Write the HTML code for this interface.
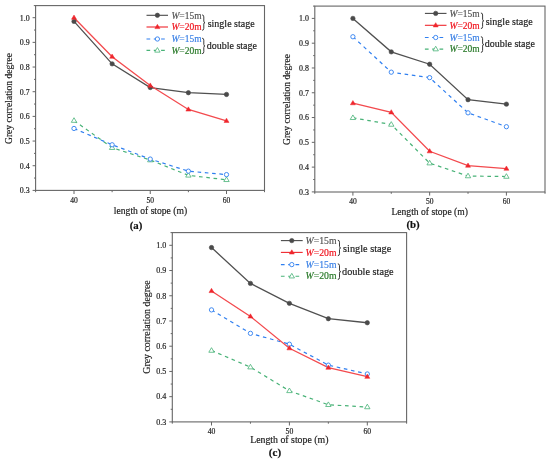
<!DOCTYPE html>
<html><head><meta charset="utf-8"><style>
html,body{margin:0;padding:0;background:#fff;}
svg{display:block;font-family:"Liberation Serif", serif;filter:blur(0.3px);}
text{stroke-width:0.18px;}
</style></head><body>
<svg width="550" height="462" viewBox="0 0 550 462">
<rect width="550" height="462" fill="#fff"/>
<rect x="35.6" y="5.6" width="228.9" height="184.8" fill="none" stroke="#666666" stroke-width="1.1"/>
<line x1="32.6" y1="190.4" x2="35.6" y2="190.4" stroke="#666666" stroke-width="1"/>
<text x="29.7" y="193.2" text-anchor="end" font-size="7.9" fill="#222" stroke="#222">0.3</text>
<line x1="34" y1="178.06" x2="35.6" y2="178.06" stroke="#666666" stroke-width="1"/>
<line x1="32.6" y1="165.73" x2="35.6" y2="165.73" stroke="#666666" stroke-width="1"/>
<text x="29.7" y="168.53" text-anchor="end" font-size="7.9" fill="#222" stroke="#222">0.4</text>
<line x1="34" y1="153.39" x2="35.6" y2="153.39" stroke="#666666" stroke-width="1"/>
<line x1="32.6" y1="141.06" x2="35.6" y2="141.06" stroke="#666666" stroke-width="1"/>
<text x="29.7" y="143.86" text-anchor="end" font-size="7.9" fill="#222" stroke="#222">0.5</text>
<line x1="34" y1="128.72" x2="35.6" y2="128.72" stroke="#666666" stroke-width="1"/>
<line x1="32.6" y1="116.39" x2="35.6" y2="116.39" stroke="#666666" stroke-width="1"/>
<text x="29.7" y="119.19" text-anchor="end" font-size="7.9" fill="#222" stroke="#222">0.6</text>
<line x1="34" y1="104.05" x2="35.6" y2="104.05" stroke="#666666" stroke-width="1"/>
<line x1="32.6" y1="91.71" x2="35.6" y2="91.71" stroke="#666666" stroke-width="1"/>
<text x="29.7" y="94.51" text-anchor="end" font-size="7.9" fill="#222" stroke="#222">0.7</text>
<line x1="34" y1="79.38" x2="35.6" y2="79.38" stroke="#666666" stroke-width="1"/>
<line x1="32.6" y1="67.04" x2="35.6" y2="67.04" stroke="#666666" stroke-width="1"/>
<text x="29.7" y="69.84" text-anchor="end" font-size="7.9" fill="#222" stroke="#222">0.8</text>
<line x1="34" y1="54.71" x2="35.6" y2="54.71" stroke="#666666" stroke-width="1"/>
<line x1="32.6" y1="42.37" x2="35.6" y2="42.37" stroke="#666666" stroke-width="1"/>
<text x="29.7" y="45.17" text-anchor="end" font-size="7.9" fill="#222" stroke="#222">0.9</text>
<line x1="34" y1="30.04" x2="35.6" y2="30.04" stroke="#666666" stroke-width="1"/>
<line x1="32.6" y1="17.7" x2="35.6" y2="17.7" stroke="#666666" stroke-width="1"/>
<text x="29.7" y="20.5" text-anchor="end" font-size="7.9" fill="#222" stroke="#222">1.0</text>
<line x1="33.8" y1="5.6" x2="35.6" y2="5.6" stroke="#666666" stroke-width="1"/>
<line x1="35.6" y1="190.4" x2="35.6" y2="192.2" stroke="#666666" stroke-width="1"/>
<line x1="264.5" y1="190.4" x2="264.5" y2="192.2" stroke="#666666" stroke-width="1"/>
<line x1="74" y1="190.4" x2="74" y2="194" stroke="#666666" stroke-width="1"/>
<text x="74" y="202.7" text-anchor="middle" font-size="7.5" fill="#222" stroke="#222">40</text>
<line x1="112.12" y1="190.4" x2="112.12" y2="192.2" stroke="#666666" stroke-width="1"/>
<line x1="150.25" y1="190.4" x2="150.25" y2="194" stroke="#666666" stroke-width="1"/>
<text x="150.25" y="202.7" text-anchor="middle" font-size="7.5" fill="#222" stroke="#222">50</text>
<line x1="188.38" y1="190.4" x2="188.38" y2="192.2" stroke="#666666" stroke-width="1"/>
<line x1="226.5" y1="190.4" x2="226.5" y2="194" stroke="#666666" stroke-width="1"/>
<text x="226.5" y="202.7" text-anchor="middle" font-size="7.5" fill="#222" stroke="#222">60</text>
<text x="150.5" y="214.3" text-anchor="middle" font-size="9.6" fill="#222" stroke="#222">length of stope (m)</text>
<text x="136" y="228.6" text-anchor="middle" font-size="10.8" font-weight="bold" fill="#111" stroke="#111">(a)</text>
<text transform="translate(12.2,98.5) rotate(-90)" text-anchor="middle" font-size="9.6" fill="#222" stroke="#222">Grey correlation degree</text>
<polyline points="74,120.58 112.12,147.72 150.25,160.05 188.38,175.35 226.5,179.79" fill="none" stroke="#48b277" stroke-width="1.2" stroke-dasharray="3.6,3.7"/>
<polyline points="74,128.47 112.12,144.76 150.25,159.07 188.38,171.16 226.5,174.61" fill="none" stroke="#2f7ff0" stroke-width="1.2" stroke-dasharray="3.6,3.7"/>
<polyline points="74,21.4 112.12,63.84 150.25,87.52 188.38,92.7 226.5,94.43" fill="none" stroke="#505050" stroke-width="1.3"/>
<polyline points="74,17.7 112.12,56.68 150.25,85.55 188.38,109.48 226.5,120.83" fill="none" stroke="#f34a4e" stroke-width="1.3"/>
<polygon points="74,117.73 76.7,122.32 71.3,122.32" fill="#fff" stroke="#48b277" stroke-width="0.8" stroke-linejoin="miter"/>
<polygon points="112.12,144.87 114.83,149.46 109.42,149.46" fill="#fff" stroke="#48b277" stroke-width="0.8" stroke-linejoin="miter"/>
<polygon points="150.25,157.21 152.95,161.8 147.55,161.8" fill="#fff" stroke="#48b277" stroke-width="0.8" stroke-linejoin="miter"/>
<polygon points="188.38,172.5 191.07,177.09 185.68,177.09" fill="#fff" stroke="#48b277" stroke-width="0.8" stroke-linejoin="miter"/>
<polygon points="226.5,176.95 229.2,181.54 223.8,181.54" fill="#fff" stroke="#48b277" stroke-width="0.8" stroke-linejoin="miter"/>
<circle cx="74" cy="128.47" r="2.15" fill="#fff" stroke="#2f7ff0" stroke-width="0.9"/>
<circle cx="112.12" cy="144.76" r="2.15" fill="#fff" stroke="#2f7ff0" stroke-width="0.9"/>
<circle cx="150.25" cy="159.07" r="2.15" fill="#fff" stroke="#2f7ff0" stroke-width="0.9"/>
<circle cx="188.38" cy="171.16" r="2.15" fill="#fff" stroke="#2f7ff0" stroke-width="0.9"/>
<circle cx="226.5" cy="174.61" r="2.15" fill="#fff" stroke="#2f7ff0" stroke-width="0.9"/>
<circle cx="74" cy="21.4" r="2.2" fill="#4a4a4a" stroke="#4a4a4a" stroke-width="0.6"/>
<circle cx="112.12" cy="63.84" r="2.2" fill="#4a4a4a" stroke="#4a4a4a" stroke-width="0.6"/>
<circle cx="150.25" cy="87.52" r="2.2" fill="#4a4a4a" stroke="#4a4a4a" stroke-width="0.6"/>
<circle cx="188.38" cy="92.7" r="2.2" fill="#4a4a4a" stroke="#4a4a4a" stroke-width="0.6"/>
<circle cx="226.5" cy="94.43" r="2.2" fill="#4a4a4a" stroke="#4a4a4a" stroke-width="0.6"/>
<polygon points="74,15.06 76.5,19.31 71.5,19.31" fill="#ef262d" stroke="#ef262d" stroke-width="0.5" stroke-linejoin="miter"/>
<polygon points="112.12,54.05 114.62,58.3 109.62,58.3" fill="#ef262d" stroke="#ef262d" stroke-width="0.5" stroke-linejoin="miter"/>
<polygon points="150.25,82.91 152.75,87.16 147.75,87.16" fill="#ef262d" stroke="#ef262d" stroke-width="0.5" stroke-linejoin="miter"/>
<polygon points="188.38,106.84 190.88,111.09 185.88,111.09" fill="#ef262d" stroke="#ef262d" stroke-width="0.5" stroke-linejoin="miter"/>
<polygon points="226.5,118.19 229,122.44 224,122.44" fill="#ef262d" stroke="#ef262d" stroke-width="0.5" stroke-linejoin="miter"/>
<line x1="146.5" y1="15.3" x2="168" y2="15.3" stroke="#4a4a4a" stroke-width="1.1"/>
<circle cx="157.4" cy="15.3" r="2.2" fill="#4a4a4a" stroke="#4a4a4a" stroke-width="0.6"/>
<text x="171.4" y="18.5" font-size="9.5" fill="#555555" stroke="#555555"><tspan font-style="italic">W</tspan>=15m</text>
<line x1="146.5" y1="27" x2="168" y2="27" stroke="#ef262d" stroke-width="1.1"/>
<polygon points="157.4,24.37 159.9,28.61 154.9,28.61" fill="#ef262d" stroke="#ef262d" stroke-width="0.5" stroke-linejoin="miter"/>
<text x="171.4" y="30.2" font-size="9.5" fill="#f0141e" stroke="#f0141e"><tspan font-style="italic">W</tspan>=20m</text>
<line x1="146.5" y1="39" x2="168" y2="39" stroke="#2f7ff0" stroke-width="1.1" stroke-dasharray="3.7,3.6"/>
<circle cx="157.4" cy="39" r="2.15" fill="#fff" stroke="#2f7ff0" stroke-width="0.9"/>
<text x="171.4" y="42.2" font-size="9.5" fill="#3c82e6" stroke="#3c82e6"><tspan font-style="italic">W</tspan>=15m</text>
<line x1="146.5" y1="50.4" x2="168" y2="50.4" stroke="#48b277" stroke-width="1.1" stroke-dasharray="3.7,3.6"/>
<polygon points="157.4,47.55 160.1,52.14 154.7,52.14" fill="#fff" stroke="#48b277" stroke-width="0.8" stroke-linejoin="miter"/>
<text x="171.4" y="53.6" font-size="9.5" fill="#2a7a2a" stroke="#2a7a2a"><tspan font-style="italic">W</tspan>=20m</text>
<path d="M202.1,14.9 Q203.8,14.9 203.8,16.9 L203.8,21.1 Q203.8,22.6 205,22.6 Q203.8,22.6 203.8,24.1 L203.8,28.3 Q203.8,30.3 202.1,30.3" fill="none" stroke="#333" stroke-width="0.95"/>
<text x="207.7" y="26.6" font-size="10" fill="#222" stroke="#222">single stage</text>
<path d="M202.1,38.2 Q203.8,38.2 203.8,40.2 L203.8,44.45 Q203.8,45.95 205,45.95 Q203.8,45.95 203.8,47.45 L203.8,51.7 Q203.8,53.7 202.1,53.7" fill="none" stroke="#333" stroke-width="0.95"/>
<text x="206.7" y="49.1" font-size="10" fill="#222" stroke="#222">double stage</text>
<rect x="314.8" y="6.1" width="230.2" height="185.9" fill="none" stroke="#666666" stroke-width="1.1"/>
<line x1="311.8" y1="191.9" x2="314.8" y2="191.9" stroke="#666666" stroke-width="1"/>
<text x="308.9" y="194.7" text-anchor="end" font-size="7.9" fill="#222" stroke="#222">0.3</text>
<line x1="313.2" y1="179.51" x2="314.8" y2="179.51" stroke="#666666" stroke-width="1"/>
<line x1="311.8" y1="167.11" x2="314.8" y2="167.11" stroke="#666666" stroke-width="1"/>
<text x="308.9" y="169.91" text-anchor="end" font-size="7.9" fill="#222" stroke="#222">0.4</text>
<line x1="313.2" y1="154.72" x2="314.8" y2="154.72" stroke="#666666" stroke-width="1"/>
<line x1="311.8" y1="142.33" x2="314.8" y2="142.33" stroke="#666666" stroke-width="1"/>
<text x="308.9" y="145.13" text-anchor="end" font-size="7.9" fill="#222" stroke="#222">0.5</text>
<line x1="313.2" y1="129.94" x2="314.8" y2="129.94" stroke="#666666" stroke-width="1"/>
<line x1="311.8" y1="117.54" x2="314.8" y2="117.54" stroke="#666666" stroke-width="1"/>
<text x="308.9" y="120.34" text-anchor="end" font-size="7.9" fill="#222" stroke="#222">0.6</text>
<line x1="313.2" y1="105.15" x2="314.8" y2="105.15" stroke="#666666" stroke-width="1"/>
<line x1="311.8" y1="92.76" x2="314.8" y2="92.76" stroke="#666666" stroke-width="1"/>
<text x="308.9" y="95.56" text-anchor="end" font-size="7.9" fill="#222" stroke="#222">0.7</text>
<line x1="313.2" y1="80.36" x2="314.8" y2="80.36" stroke="#666666" stroke-width="1"/>
<line x1="311.8" y1="67.97" x2="314.8" y2="67.97" stroke="#666666" stroke-width="1"/>
<text x="308.9" y="70.77" text-anchor="end" font-size="7.9" fill="#222" stroke="#222">0.8</text>
<line x1="313.2" y1="55.58" x2="314.8" y2="55.58" stroke="#666666" stroke-width="1"/>
<line x1="311.8" y1="43.19" x2="314.8" y2="43.19" stroke="#666666" stroke-width="1"/>
<text x="308.9" y="45.99" text-anchor="end" font-size="7.9" fill="#222" stroke="#222">0.9</text>
<line x1="313.2" y1="30.79" x2="314.8" y2="30.79" stroke="#666666" stroke-width="1"/>
<line x1="311.8" y1="18.4" x2="314.8" y2="18.4" stroke="#666666" stroke-width="1"/>
<text x="308.9" y="21.2" text-anchor="end" font-size="7.9" fill="#222" stroke="#222">1.0</text>
<line x1="313" y1="6.1" x2="314.8" y2="6.1" stroke="#666666" stroke-width="1"/>
<line x1="314.8" y1="192" x2="314.8" y2="193.8" stroke="#666666" stroke-width="1"/>
<line x1="545" y1="192" x2="545" y2="193.8" stroke="#666666" stroke-width="1"/>
<line x1="352.9" y1="192" x2="352.9" y2="195.6" stroke="#666666" stroke-width="1"/>
<text x="352.9" y="204.3" text-anchor="middle" font-size="7.5" fill="#222" stroke="#222">40</text>
<line x1="391.27" y1="192" x2="391.27" y2="193.8" stroke="#666666" stroke-width="1"/>
<line x1="429.65" y1="192" x2="429.65" y2="195.6" stroke="#666666" stroke-width="1"/>
<text x="429.65" y="204.3" text-anchor="middle" font-size="7.5" fill="#222" stroke="#222">50</text>
<line x1="468.02" y1="192" x2="468.02" y2="193.8" stroke="#666666" stroke-width="1"/>
<line x1="506.4" y1="192" x2="506.4" y2="195.6" stroke="#666666" stroke-width="1"/>
<text x="506.4" y="204.3" text-anchor="middle" font-size="7.5" fill="#222" stroke="#222">60</text>
<text x="429.7" y="214.6" text-anchor="middle" font-size="9.6" fill="#222" stroke="#222">Length of stope (m)</text>
<text x="413" y="228" text-anchor="middle" font-size="10.8" font-weight="bold" fill="#111" stroke="#111">(b)</text>
<text transform="translate(290.2,99.5) rotate(-90)" text-anchor="middle" font-size="9.6" fill="#222" stroke="#222">Grey correlation degree</text>
<polyline points="352.9,117.79 391.27,124.48 429.65,163.15 468.02,176.04 506.4,176.53" fill="none" stroke="#48b277" stroke-width="1.2" stroke-dasharray="3.6,3.7"/>
<polyline points="352.9,36.74 391.27,72.18 429.65,77.64 468.02,112.83 506.4,126.71" fill="none" stroke="#2f7ff0" stroke-width="1.2" stroke-dasharray="3.6,3.7"/>
<polyline points="352.9,18.4 391.27,51.86 429.65,64.25 468.02,99.7 506.4,104.16" fill="none" stroke="#505050" stroke-width="1.3"/>
<polyline points="352.9,103.17 391.27,112.34 429.65,151.25 468.02,165.63 506.4,168.6" fill="none" stroke="#f34a4e" stroke-width="1.3"/>
<polygon points="352.9,114.94 355.6,119.53 350.2,119.53" fill="#fff" stroke="#48b277" stroke-width="0.8" stroke-linejoin="miter"/>
<polygon points="391.27,121.64 393.97,126.23 388.57,126.23" fill="#fff" stroke="#48b277" stroke-width="0.8" stroke-linejoin="miter"/>
<polygon points="429.65,160.3 432.35,164.89 426.95,164.89" fill="#fff" stroke="#48b277" stroke-width="0.8" stroke-linejoin="miter"/>
<polygon points="468.02,173.19 470.72,177.78 465.32,177.78" fill="#fff" stroke="#48b277" stroke-width="0.8" stroke-linejoin="miter"/>
<polygon points="506.4,173.69 509.1,178.28 503.7,178.28" fill="#fff" stroke="#48b277" stroke-width="0.8" stroke-linejoin="miter"/>
<circle cx="352.9" cy="36.74" r="2.15" fill="#fff" stroke="#2f7ff0" stroke-width="0.9"/>
<circle cx="391.27" cy="72.18" r="2.15" fill="#fff" stroke="#2f7ff0" stroke-width="0.9"/>
<circle cx="429.65" cy="77.64" r="2.15" fill="#fff" stroke="#2f7ff0" stroke-width="0.9"/>
<circle cx="468.02" cy="112.83" r="2.15" fill="#fff" stroke="#2f7ff0" stroke-width="0.9"/>
<circle cx="506.4" cy="126.71" r="2.15" fill="#fff" stroke="#2f7ff0" stroke-width="0.9"/>
<circle cx="352.9" cy="18.4" r="2.2" fill="#4a4a4a" stroke="#4a4a4a" stroke-width="0.6"/>
<circle cx="391.27" cy="51.86" r="2.2" fill="#4a4a4a" stroke="#4a4a4a" stroke-width="0.6"/>
<circle cx="429.65" cy="64.25" r="2.2" fill="#4a4a4a" stroke="#4a4a4a" stroke-width="0.6"/>
<circle cx="468.02" cy="99.7" r="2.2" fill="#4a4a4a" stroke="#4a4a4a" stroke-width="0.6"/>
<circle cx="506.4" cy="104.16" r="2.2" fill="#4a4a4a" stroke="#4a4a4a" stroke-width="0.6"/>
<polygon points="352.9,100.53 355.4,104.78 350.4,104.78" fill="#ef262d" stroke="#ef262d" stroke-width="0.5" stroke-linejoin="miter"/>
<polygon points="391.27,109.7 393.77,113.95 388.77,113.95" fill="#ef262d" stroke="#ef262d" stroke-width="0.5" stroke-linejoin="miter"/>
<polygon points="429.65,148.62 432.15,152.87 427.15,152.87" fill="#ef262d" stroke="#ef262d" stroke-width="0.5" stroke-linejoin="miter"/>
<polygon points="468.02,162.99 470.52,167.24 465.52,167.24" fill="#ef262d" stroke="#ef262d" stroke-width="0.5" stroke-linejoin="miter"/>
<polygon points="506.4,165.97 508.9,170.22 503.9,170.22" fill="#ef262d" stroke="#ef262d" stroke-width="0.5" stroke-linejoin="miter"/>
<line x1="424.9" y1="13.4" x2="446.5" y2="13.4" stroke="#4a4a4a" stroke-width="1.1"/>
<circle cx="435.7" cy="13.4" r="2.2" fill="#4a4a4a" stroke="#4a4a4a" stroke-width="0.6"/>
<text x="449.6" y="16.6" font-size="9.5" fill="#555555" stroke="#555555"><tspan font-style="italic">W</tspan>=15m</text>
<line x1="424.9" y1="25.3" x2="446.5" y2="25.3" stroke="#ef262d" stroke-width="1.1"/>
<polygon points="435.7,22.66 438.2,26.91 433.2,26.91" fill="#ef262d" stroke="#ef262d" stroke-width="0.5" stroke-linejoin="miter"/>
<text x="449.6" y="28.5" font-size="9.5" fill="#f0141e" stroke="#f0141e"><tspan font-style="italic">W</tspan>=20m</text>
<line x1="424.9" y1="37.5" x2="446.5" y2="37.5" stroke="#2f7ff0" stroke-width="1.1" stroke-dasharray="3.7,3.6"/>
<circle cx="435.7" cy="37.5" r="2.15" fill="#fff" stroke="#2f7ff0" stroke-width="0.9"/>
<text x="449.6" y="40.7" font-size="9.5" fill="#3c82e6" stroke="#3c82e6"><tspan font-style="italic">W</tspan>=15m</text>
<line x1="424.9" y1="49.1" x2="446.5" y2="49.1" stroke="#48b277" stroke-width="1.1" stroke-dasharray="3.7,3.6"/>
<polygon points="435.7,46.25 438.4,50.84 433,50.84" fill="#fff" stroke="#48b277" stroke-width="0.8" stroke-linejoin="miter"/>
<text x="449.6" y="52.3" font-size="9.5" fill="#2a7a2a" stroke="#2a7a2a"><tspan font-style="italic">W</tspan>=20m</text>
<path d="M480.9,13 Q482.6,13 482.6,15 L482.6,19.3 Q482.6,20.8 483.8,20.8 Q482.6,20.8 482.6,22.3 L482.6,26.6 Q482.6,28.6 480.9,28.6" fill="none" stroke="#333" stroke-width="0.95"/>
<text x="485.7" y="25" font-size="10" fill="#222" stroke="#222">single stage</text>
<path d="M480.9,36.7 Q482.6,36.7 482.6,38.7 L482.6,43.05 Q482.6,44.55 483.8,44.55 Q482.6,44.55 482.6,46.05 L482.6,50.4 Q482.6,52.4 480.9,52.4" fill="none" stroke="#333" stroke-width="0.95"/>
<text x="484.7" y="47" font-size="10" fill="#222" stroke="#222">double stage</text>
<rect x="172.3" y="232.6" width="234.3" height="189.3" fill="none" stroke="#666666" stroke-width="1.1"/>
<line x1="169.3" y1="421.9" x2="172.3" y2="421.9" stroke="#666666" stroke-width="1"/>
<text x="166.4" y="424.7" text-anchor="end" font-size="8.1" fill="#222" stroke="#222">0.3</text>
<line x1="170.7" y1="409.29" x2="172.3" y2="409.29" stroke="#666666" stroke-width="1"/>
<line x1="169.3" y1="396.67" x2="172.3" y2="396.67" stroke="#666666" stroke-width="1"/>
<text x="166.4" y="399.47" text-anchor="end" font-size="8.1" fill="#222" stroke="#222">0.4</text>
<line x1="170.7" y1="384.06" x2="172.3" y2="384.06" stroke="#666666" stroke-width="1"/>
<line x1="169.3" y1="371.44" x2="172.3" y2="371.44" stroke="#666666" stroke-width="1"/>
<text x="166.4" y="374.24" text-anchor="end" font-size="8.1" fill="#222" stroke="#222">0.5</text>
<line x1="170.7" y1="358.83" x2="172.3" y2="358.83" stroke="#666666" stroke-width="1"/>
<line x1="169.3" y1="346.21" x2="172.3" y2="346.21" stroke="#666666" stroke-width="1"/>
<text x="166.4" y="349.01" text-anchor="end" font-size="8.1" fill="#222" stroke="#222">0.6</text>
<line x1="170.7" y1="333.6" x2="172.3" y2="333.6" stroke="#666666" stroke-width="1"/>
<line x1="169.3" y1="320.99" x2="172.3" y2="320.99" stroke="#666666" stroke-width="1"/>
<text x="166.4" y="323.79" text-anchor="end" font-size="8.1" fill="#222" stroke="#222">0.7</text>
<line x1="170.7" y1="308.37" x2="172.3" y2="308.37" stroke="#666666" stroke-width="1"/>
<line x1="169.3" y1="295.76" x2="172.3" y2="295.76" stroke="#666666" stroke-width="1"/>
<text x="166.4" y="298.56" text-anchor="end" font-size="8.1" fill="#222" stroke="#222">0.8</text>
<line x1="170.7" y1="283.14" x2="172.3" y2="283.14" stroke="#666666" stroke-width="1"/>
<line x1="169.3" y1="270.53" x2="172.3" y2="270.53" stroke="#666666" stroke-width="1"/>
<text x="166.4" y="273.33" text-anchor="end" font-size="8.1" fill="#222" stroke="#222">0.9</text>
<line x1="170.7" y1="257.91" x2="172.3" y2="257.91" stroke="#666666" stroke-width="1"/>
<line x1="169.3" y1="245.3" x2="172.3" y2="245.3" stroke="#666666" stroke-width="1"/>
<text x="166.4" y="248.1" text-anchor="end" font-size="8.1" fill="#222" stroke="#222">1.0</text>
<line x1="170.5" y1="232.6" x2="172.3" y2="232.6" stroke="#666666" stroke-width="1"/>
<line x1="172.3" y1="421.9" x2="172.3" y2="423.7" stroke="#666666" stroke-width="1"/>
<line x1="406.6" y1="421.9" x2="406.6" y2="423.7" stroke="#666666" stroke-width="1"/>
<line x1="211.5" y1="421.9" x2="211.5" y2="425.5" stroke="#666666" stroke-width="1"/>
<text x="211.5" y="434.2" text-anchor="middle" font-size="7.69" fill="#222" stroke="#222">40</text>
<line x1="250.45" y1="421.9" x2="250.45" y2="423.7" stroke="#666666" stroke-width="1"/>
<line x1="289.4" y1="421.9" x2="289.4" y2="425.5" stroke="#666666" stroke-width="1"/>
<text x="289.4" y="434.2" text-anchor="middle" font-size="7.69" fill="#222" stroke="#222">50</text>
<line x1="328.35" y1="421.9" x2="328.35" y2="423.7" stroke="#666666" stroke-width="1"/>
<line x1="367.3" y1="421.9" x2="367.3" y2="425.5" stroke="#666666" stroke-width="1"/>
<text x="367.3" y="434.2" text-anchor="middle" font-size="7.69" fill="#222" stroke="#222">60</text>
<text x="289.3" y="442.7" text-anchor="middle" font-size="9.84" fill="#222" stroke="#222">Length of stope (m)</text>
<text x="275" y="456.4" text-anchor="middle" font-size="11.07" font-weight="bold" fill="#111" stroke="#111">(c)</text>
<text transform="translate(150,327) rotate(-90)" text-anchor="middle" font-size="9.84" fill="#222" stroke="#222">Grey correlation degree</text>
<polyline points="211.5,350.5 250.45,367.15 289.4,390.87 328.35,404.74 367.3,407.02" fill="none" stroke="#48b277" stroke-width="1.2" stroke-dasharray="3.6,3.7"/>
<polyline points="211.5,309.89 250.45,333.35 289.4,344.2 328.35,365.14 367.3,373.97" fill="none" stroke="#2f7ff0" stroke-width="1.2" stroke-dasharray="3.6,3.7"/>
<polyline points="211.5,247.57 250.45,283.4 289.4,303.33 328.35,318.72 367.3,322.75" fill="none" stroke="#505050" stroke-width="1.3"/>
<polyline points="211.5,290.96 250.45,316.44 289.4,348.23 328.35,367.66 367.3,376.74" fill="none" stroke="#f34a4e" stroke-width="1.3"/>
<polygon points="211.5,347.66 214.2,352.25 208.8,352.25" fill="#fff" stroke="#48b277" stroke-width="0.8" stroke-linejoin="miter"/>
<polygon points="250.45,364.31 253.15,368.9 247.75,368.9" fill="#fff" stroke="#48b277" stroke-width="0.8" stroke-linejoin="miter"/>
<polygon points="289.4,388.02 292.1,392.61 286.7,392.61" fill="#fff" stroke="#48b277" stroke-width="0.8" stroke-linejoin="miter"/>
<polygon points="328.35,401.9 331.05,406.49 325.65,406.49" fill="#fff" stroke="#48b277" stroke-width="0.8" stroke-linejoin="miter"/>
<polygon points="367.3,404.17 370,408.76 364.6,408.76" fill="#fff" stroke="#48b277" stroke-width="0.8" stroke-linejoin="miter"/>
<circle cx="211.5" cy="309.89" r="2.15" fill="#fff" stroke="#2f7ff0" stroke-width="0.9"/>
<circle cx="250.45" cy="333.35" r="2.15" fill="#fff" stroke="#2f7ff0" stroke-width="0.9"/>
<circle cx="289.4" cy="344.2" r="2.15" fill="#fff" stroke="#2f7ff0" stroke-width="0.9"/>
<circle cx="328.35" cy="365.14" r="2.15" fill="#fff" stroke="#2f7ff0" stroke-width="0.9"/>
<circle cx="367.3" cy="373.97" r="2.15" fill="#fff" stroke="#2f7ff0" stroke-width="0.9"/>
<circle cx="211.5" cy="247.57" r="2.2" fill="#4a4a4a" stroke="#4a4a4a" stroke-width="0.6"/>
<circle cx="250.45" cy="283.4" r="2.2" fill="#4a4a4a" stroke="#4a4a4a" stroke-width="0.6"/>
<circle cx="289.4" cy="303.33" r="2.2" fill="#4a4a4a" stroke="#4a4a4a" stroke-width="0.6"/>
<circle cx="328.35" cy="318.72" r="2.2" fill="#4a4a4a" stroke="#4a4a4a" stroke-width="0.6"/>
<circle cx="367.3" cy="322.75" r="2.2" fill="#4a4a4a" stroke="#4a4a4a" stroke-width="0.6"/>
<polygon points="211.5,288.33 214,292.58 209,292.58" fill="#ef262d" stroke="#ef262d" stroke-width="0.5" stroke-linejoin="miter"/>
<polygon points="250.45,313.81 252.95,318.06 247.95,318.06" fill="#ef262d" stroke="#ef262d" stroke-width="0.5" stroke-linejoin="miter"/>
<polygon points="289.4,345.6 291.9,349.85 286.9,349.85" fill="#ef262d" stroke="#ef262d" stroke-width="0.5" stroke-linejoin="miter"/>
<polygon points="328.35,365.02 330.85,369.27 325.85,369.27" fill="#ef262d" stroke="#ef262d" stroke-width="0.5" stroke-linejoin="miter"/>
<polygon points="367.3,374.11 369.8,378.36 364.8,378.36" fill="#ef262d" stroke="#ef262d" stroke-width="0.5" stroke-linejoin="miter"/>
<line x1="280.9" y1="240.6" x2="302.7" y2="240.6" stroke="#4a4a4a" stroke-width="1.1"/>
<circle cx="291.8" cy="240.6" r="2.2" fill="#4a4a4a" stroke="#4a4a4a" stroke-width="0.6"/>
<text x="305.6" y="243.8" font-size="9.74" fill="#555555" stroke="#555555"><tspan font-style="italic">W</tspan>=15m</text>
<line x1="280.9" y1="252.4" x2="302.7" y2="252.4" stroke="#ef262d" stroke-width="1.1"/>
<polygon points="291.8,249.77 294.3,254.02 289.3,254.02" fill="#ef262d" stroke="#ef262d" stroke-width="0.5" stroke-linejoin="miter"/>
<text x="305.6" y="255.6" font-size="9.74" fill="#f0141e" stroke="#f0141e"><tspan font-style="italic">W</tspan>=20m</text>
<line x1="280.9" y1="264.6" x2="302.7" y2="264.6" stroke="#2f7ff0" stroke-width="1.1" stroke-dasharray="3.7,3.6"/>
<circle cx="291.8" cy="264.6" r="2.15" fill="#fff" stroke="#2f7ff0" stroke-width="0.9"/>
<text x="305.6" y="267.8" font-size="9.74" fill="#3c82e6" stroke="#3c82e6"><tspan font-style="italic">W</tspan>=15m</text>
<line x1="280.9" y1="276.2" x2="302.7" y2="276.2" stroke="#48b277" stroke-width="1.1" stroke-dasharray="3.7,3.6"/>
<polygon points="291.8,273.35 294.5,277.94 289.1,277.94" fill="#fff" stroke="#48b277" stroke-width="0.8" stroke-linejoin="miter"/>
<text x="305.6" y="279.4" font-size="9.74" fill="#2a7a2a" stroke="#2a7a2a"><tspan font-style="italic">W</tspan>=20m</text>
<path d="M337.8,240.2 Q339.5,240.2 339.5,242.2 L339.5,246.45 Q339.5,247.95 340.7,247.95 Q339.5,247.95 339.5,249.45 L339.5,253.7 Q339.5,255.7 337.8,255.7" fill="none" stroke="#333" stroke-width="0.95"/>
<text x="343.1" y="252.4" font-size="10.25" fill="#222" stroke="#222">single stage</text>
<path d="M337.8,263.8 Q339.5,263.8 339.5,265.8 L339.5,270.15 Q339.5,271.65 340.7,271.65 Q339.5,271.65 339.5,273.15 L339.5,277.5 Q339.5,279.5 337.8,279.5" fill="none" stroke="#333" stroke-width="0.95"/>
<text x="342.1" y="274.6" font-size="10.25" fill="#222" stroke="#222">double stage</text>
</svg></body></html>
